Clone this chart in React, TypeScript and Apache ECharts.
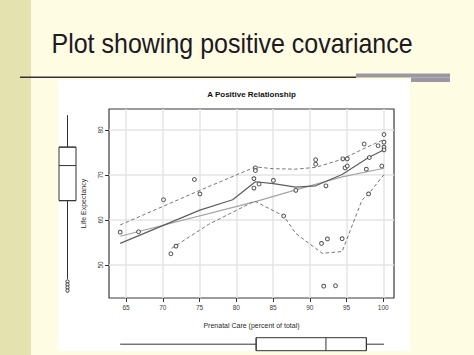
import React, { useEffect, useRef } from "react";
import * as echarts from "echarts";

// ---- data ----
const careX = [64.2, 66.7, 70.1, 71.1, 71.8, 74.3, 75.05, 82.6, 82.6, 82.4, 83.1, 82.4, 85.05, 86.45, 88.1, 90.8, 90.8, 91.6, 92.4, 91.9, 93.5, 92.2, 94.4, 94.5, 95.1, 94.8, 95.1, 97.4, 98.1, 97.7, 99.3, 100.1, 100.1, 100.1, 100.1, 99.8, 98.0];
const lifeY = [57.3, 57.4, 64.5, 52.5, 54.2, 69.0, 65.8, 71.6, 71.0, 69.2, 68.0, 67.1, 68.8, 60.9, 66.6, 73.4, 72.4, 54.8, 55.8, 45.3, 45.4, 67.6, 55.85, 73.6, 73.6, 71.6, 72.0, 76.9, 73.9, 71.3, 76.5, 79.0, 77.3, 76.2, 75.6, 72.0, 65.8];

const fitX = [64.2, 82.6, 88.1, 94.4, 100.1];
const fitY = [56.4, 64.1, 66.7, 69.6, 71.5];

const smoothX = [64.2, 75.05, 79.5, 82.6, 85.05, 88.1, 90.8, 94.4, 98.0, 100.1];
const smoothY = [54.8, 62.2, 64.5, 68.5, 68.1, 67.3, 67.6, 70.1, 73.9, 75.6];

const upperX = [64.2, 75.05, 82.6, 85.05, 88.1, 90.8, 94.4, 97.4, 100.1];
const upperY = [58.9, 66.6, 71.8, 71.4, 71.3, 71.7, 73.5, 75.9, 77.9];

const lowerX = [71.2, 76.2, 82.5, 86.45, 88.1, 91.7, 94.4, 97.1, 98.0, 100.1];
const lowerY = [53.7, 59.0, 64.2, 60.9, 57.0, 52.6, 53.0, 64.4, 65.8, 70.1];

// marginal boxplots: [whiskerLow, Q1, median, Q3, whiskerHigh]
const lifeBox = [46.9, 64.3, 72.1, 76.2, 83.3];
const lifeOutliers = [46.33, 45.67, 45.0, 44.33];
const careBox = [64.2, 82.7, 92.2, 97.7, 100.1];

const xTicks = [65, 70, 75, 80, 85, 90, 95, 100];
const yTicks = [50, 60, 70, 80];

const X_MIN = 62.68, X_MAX = 101.46;
const Y_MIN = 42.67, Y_MAX = 84.67;

const FONT = "'Liberation Sans', Arial, sans-serif";

const zip = (a: number[], b: number[]) => a.map((v, i) => [v, b[i]]);

export default function App() {
  const ref = useRef<HTMLDivElement>(null);
  useEffect(() => {
    if (!ref.current) return;
    const chart = echarts.init(ref.current, undefined, { renderer: "svg" });
    const ptStyle = { color: "#ffffff", borderColor: "#2a2a2a", borderWidth: 1 };
    const option: any = {
      animation: false,
      backgroundColor: "#fefde4",
      graphic: [
        { type: "rect", z: -1, silent: true, shape: { x: 0, y: 0, width: 31, height: 355 }, style: { fill: "#e4e2ae" } },
        { type: "rect", z: -1, silent: true, shape: { x: 58, y: 80, width: 352, height: 271 }, style: { fill: "#ffffff" } },
        { type: "rect", z: -1, silent: true, shape: { x: 20, y: 76.5, width: 336, height: 1.6 }, style: { fill: "#3a2c3a" } },
        { type: "rect", z: -1, silent: true, shape: { x: 356, y: 73.5, width: 94, height: 4 }, style: { fill: "#9c96a2" } },
        { type: "rect", z: -1, silent: true, shape: { x: 411, y: 77.5, width: 39, height: 4.5 }, style: { fill: "#9c96a2" } },
        {
          type: "text", x: 51.5, y: 43.3, scaleY: 1.14, silent: true,
          style: { text: "Plot showing positive covariance", fontSize: 25, fontFamily: FONT, fill: "#201822", align: "left", verticalAlign: "middle" },
        },
        {
          type: "text", x: 251.5, y: 94, silent: true,
          style: { text: "A Positive Relationship", fontSize: 8, fontWeight: "bold", fontFamily: FONT, fill: "#111111", align: "center", verticalAlign: "middle" },
        },
      ],
      grid: [
        { left: 109, top: 109, width: 285, height: 189, show: true, borderColor: "#3a3a3a", borderWidth: 1.2, backgroundColor: "transparent" },
        { left: 59, top: 109, width: 17, height: 189 },
        { left: 109, top: 337.7, width: 285, height: 13 },
      ],
      xAxis: [
        {
          gridIndex: 0, type: "value", min: X_MIN, max: X_MAX,
          axisLine: { show: false },
          axisTick: { show: true, length: 4, customValues: xTicks, lineStyle: { color: "#333" } },
          axisLabel: { customValues: xTicks, fontSize: 6.5, color: "#3c3c3c", margin: 6, fontFamily: FONT },
          splitLine: { show: false },
          name: "Prenatal Care (percent of total)", nameLocation: "middle", nameGap: 23.5,
          nameTextStyle: { fontSize: 7, color: "#2a2a2a", fontFamily: FONT },
        },
        { gridIndex: 1, type: "category", data: ["Life"], show: false },
        { gridIndex: 2, type: "value", min: X_MIN, max: X_MAX, show: false },
      ],
      yAxis: [
        {
          gridIndex: 0, type: "value", min: Y_MIN, max: Y_MAX,
          axisLine: { show: false },
          axisTick: { show: true, length: 4, customValues: yTicks, lineStyle: { color: "#333" } },
          axisLabel: { customValues: yTicks, fontSize: 6.5, color: "#3c3c3c", margin: 5, rotate: 90, fontFamily: FONT },
          splitLine: { show: false },
          name: "Life Expectancy", nameLocation: "middle", nameGap: 22,
          nameTextStyle: { fontSize: 7, color: "#2a2a2a", fontFamily: FONT },
        },
        { gridIndex: 1, type: "value", min: Y_MIN, max: Y_MAX, show: false },
        { gridIndex: 2, type: "category", data: ["Care"], show: false },
      ],
      series: [
        {
          type: "line", xAxisIndex: 0, yAxisIndex: 0, data: [], silent: true,
          markLine: {
            z: 1, silent: true, symbol: ["none", "none"], label: { show: false },
            lineStyle: { color: "#e4e4e4", width: 1.5, type: "solid" },
            data: [...xTicks.map((v) => ({ xAxis: v })), ...yTicks.map((v) => ({ yAxis: v }))],
          },
        },
        { type: "line", data: zip(fitX, fitY), showSymbol: false, lineStyle: { color: "#a4a4a4", width: 1.2 }, z: 2 },
        { type: "line", data: zip(smoothX, smoothY), showSymbol: false, lineStyle: { color: "#5e5e5e", width: 1.2 }, z: 3 },
        { type: "line", data: zip(upperX, upperY), showSymbol: false, lineStyle: { color: "#767676", width: 1, type: [3.5, 2.5] }, z: 3 },
        { type: "line", data: zip(lowerX, lowerY), showSymbol: false, lineStyle: { color: "#767676", width: 1, type: [3.5, 2.5] }, z: 3 },
        { type: "scatter", data: zip(careX, lifeY), symbol: "circle", symbolSize: 3.8, itemStyle: ptStyle, z: 4 },
        // left marginal boxplot (Life Expectancy)
        {
          type: "boxplot", xAxisIndex: 1, yAxisIndex: 1, boxWidth: [17, 17],
          data: [[lifeBox[1], lifeBox[1], lifeBox[2], lifeBox[3], lifeBox[3]]],
          itemStyle: { color: "#ffffff", borderColor: "#333", borderWidth: 1 },
        },
        { type: "line", xAxisIndex: 1, yAxisIndex: 1, data: [["Life", lifeBox[3]], ["Life", lifeBox[4]]], showSymbol: false, lineStyle: { color: "#333", width: 1 } },
        { type: "line", xAxisIndex: 1, yAxisIndex: 1, data: [["Life", lifeBox[1]], ["Life", lifeBox[0]]], showSymbol: false, lineStyle: { color: "#333", width: 1 } },
        { type: "scatter", xAxisIndex: 1, yAxisIndex: 1, data: lifeOutliers.map((v) => ["Life", v]), symbol: "circle", symbolSize: 3.3, itemStyle: ptStyle },
        // bottom marginal boxplot (Prenatal Care)
        {
          type: "boxplot", xAxisIndex: 2, yAxisIndex: 2, boxWidth: [13, 13],
          data: [[careBox[1], careBox[1], careBox[2], careBox[3], careBox[3]]],
          itemStyle: { color: "#ffffff", borderColor: "#333", borderWidth: 1 },
        },
        { type: "line", xAxisIndex: 2, yAxisIndex: 2, data: [[careBox[0], "Care"], [careBox[1], "Care"]], showSymbol: false, lineStyle: { color: "#333", width: 1 } },
        { type: "line", xAxisIndex: 2, yAxisIndex: 2, data: [[careBox[3], "Care"], [careBox[4], "Care"]], showSymbol: false, lineStyle: { color: "#333", width: 1 } },
      ],
    };
    chart.setOption(option);
    return () => chart.dispose();
  }, []);
  return <div ref={ref} style={{ position: "fixed", left: 0, top: 0, width: 474, height: 355 }} />;
}
